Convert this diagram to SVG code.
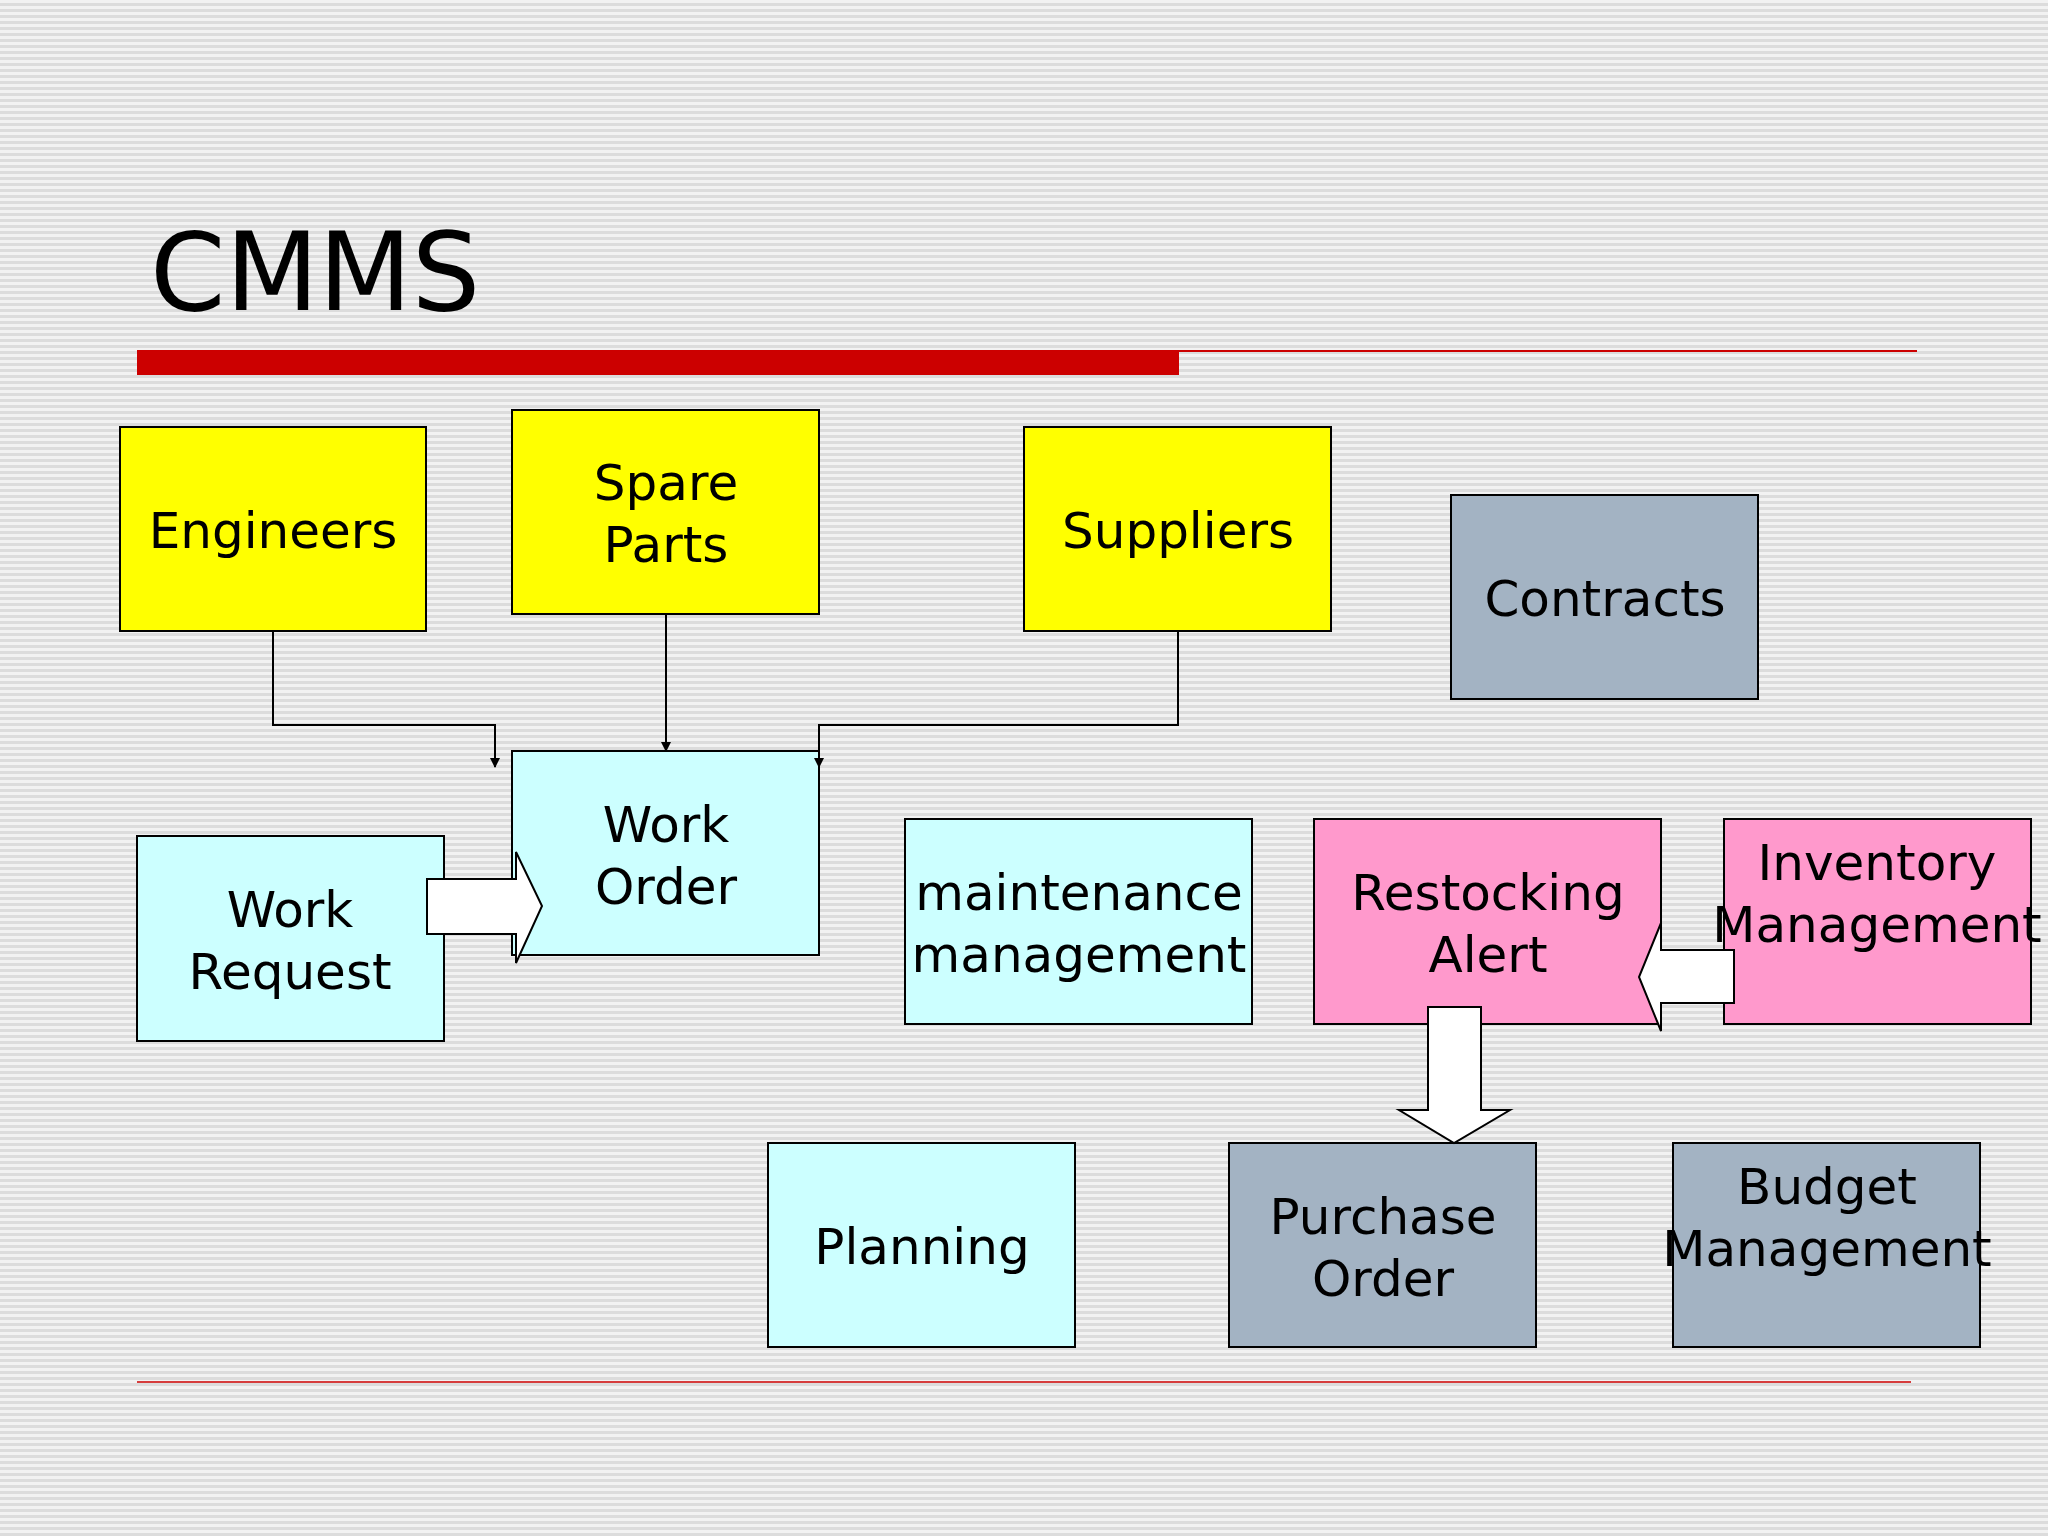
<svg xmlns="http://www.w3.org/2000/svg" width="2048" height="1536" viewBox="0 0 2048 1536">
<defs>
<pattern id="bg" width="8" height="6" patternUnits="userSpaceOnUse"><rect width="8" height="6" fill="#f2f2f2"/><rect y="3" width="8" height="3" fill="#dcdcdc"/></pattern>
<marker id="ah" markerWidth="10" markerHeight="10" refX="9" refY="5" orient="auto" markerUnits="userSpaceOnUse" viewBox="0 0 10 10"><path d="M0,0L10,5L0,10z" fill="#000"/></marker>
<style>
.b{stroke:#000;stroke-width:2}
.y{fill:#ffff00}.c{fill:#ccffff}.g{fill:#a3b3c3}.p{fill:#ff99cc}
text{font-family:"DejaVu Sans",Verdana,sans-serif;font-size:50px;fill:#000;text-anchor:middle}
.ln{fill:none;stroke:#000;stroke-width:2;marker-end:url(#ah)}
.ba{fill:#fff;stroke:#000;stroke-width:2}
</style>
</defs>
<rect width="2048" height="1536" fill="url(#bg)"/>
<text x="150" y="310" style="font-size:108px;text-anchor:start">CMMS</text>
<rect x="137" y="350" width="1042" height="25" fill="#cc0000"/>
<line x1="1179" y1="351" x2="1917" y2="351" stroke="#cc0000" stroke-width="2"/>
<line x1="137" y1="1382" x2="1911" y2="1382" stroke="#cc0000" stroke-width="1.5"/>
<g id="engineers"><rect class="b y" x="120" y="427" width="306" height="204"/><text x="273" y="548">Engineers</text></g>
<g id="spare"><rect class="b y" x="512" y="410" width="307" height="204"/><text x="666" y="500">Spare</text><text x="666" y="562">Parts</text></g>
<g id="suppliers"><rect class="b y" x="1024" y="427" width="307" height="204"/><text x="1178" y="548">Suppliers</text></g>
<g id="contracts"><rect class="b g" x="1451" y="495" width="307" height="204"/><text x="1605" y="616">Contracts</text></g>
<g id="workorder"><rect class="b c" x="512" y="751" width="307" height="204"/><text x="666" y="842">Work</text><text x="666" y="904">Order</text></g>
<g id="workrequest"><rect class="b c" x="137" y="836" width="307" height="205"/><text x="290" y="927">Work</text><text x="290" y="989">Request</text></g>
<g id="maintenance"><rect class="b c" x="905" y="819" width="347" height="205"/><text x="1079" y="910">maintenance</text><text x="1079" y="972">management</text></g>
<g id="restocking"><rect class="b p" x="1314" y="819" width="347" height="205"/><text x="1488" y="910">Restocking</text><text x="1488" y="972">Alert</text></g>
<g id="inventory"><rect class="b p" x="1724" y="819" width="307" height="205"/><text x="1877" y="880">Inventory</text><text x="1877" y="942">Management</text></g>
<g id="planning"><rect class="b c" x="768" y="1143" width="307" height="204"/><text x="922" y="1264">Planning</text></g>
<g id="purchase"><rect class="b g" x="1229" y="1143" width="307" height="204"/><text x="1383" y="1234">Purchase</text><text x="1383" y="1296">Order</text></g>
<g id="budget"><rect class="b g" x="1673" y="1143" width="307" height="204"/><text x="1827" y="1204">Budget</text><text x="1827" y="1266">Management</text></g>
<g id="connectors">
<path class="ln" d="M273,631V725H495V767"/>
<path class="ln" d="M666,614V751"/>
<path class="ln" d="M1178,631V725H819V767"/>
<path class="ba" d="M427,879H516V852L542,906L516,963V934H427Z"/>
<path class="ba" d="M1734,950H1661V923L1639,977L1661,1031V1003H1734Z"/>
<path class="ba" d="M1428,1007H1481V1110H1510L1454,1143L1399,1110H1428Z"/>
</g>
</svg>
